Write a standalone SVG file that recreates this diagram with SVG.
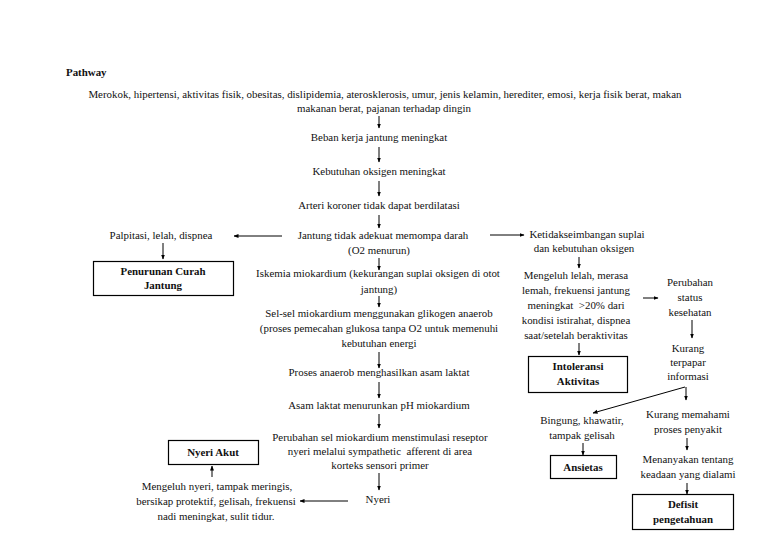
<svg xmlns="http://www.w3.org/2000/svg" width="768" height="543" viewBox="0 0 768 543">
<defs>
<marker id="ah" viewBox="0 0 10 10" refX="9" refY="5" markerWidth="5" markerHeight="5" orient="auto" markerUnits="userSpaceOnUse">
<path d="M0,1 L10,5 L0,9 Z" fill="#000"/>
</marker>
</defs>
<style>
text{font-family:"Liberation Serif","Times New Roman","DejaVu Serif",serif;font-size:10.9px;fill:#111;text-anchor:middle}
.b{font-weight:bold}
.l{text-anchor:start}
.p{white-space:pre}
.box{fill:#fff;stroke:#000;stroke-width:1.2}
.c line,.c polyline{stroke:#000;stroke-width:1;fill:none;marker-end:url(#ah)}
</style>
<rect width="768" height="543" fill="#fff"/>
<text class="b l" x="66" y="76">Pathway</text>
<g id="risk"><text x="385" y="98">Merokok, hipertensi, aktivitas fisik, obesitas, dislipidemia, aterosklerosis, umur, jenis kelamin, herediter, emosi, kerja fisik berat, makan</text>
<text x="384" y="112">makanan berat, pajanan terhadap dingin</text></g>
<g id="beban"><text x="379" y="141">Beban kerja jantung meningkat</text></g>
<g id="kebutuhan"><text x="379" y="175">Kebutuhan oksigen meningkat</text></g>
<g id="arteri"><text x="379" y="209">Arteri koroner tidak dapat berdilatasi</text></g>
<g id="jantung"><text x="383" y="239">Jantung tidak adekuat memompa darah</text><text x="379" y="254">(O2 menurun)</text></g>
<g id="palpitasi"><text x="161" y="239">Palpitasi, lelah, dispnea</text></g>
<g id="penurunan"><rect class="box" x="93.5" y="261.5" width="140" height="34"/><text class="b" x="163" y="275">Penurunan Curah</text><text class="b" x="163" y="289">Jantung</text></g>
<g id="iskemia"><text x="378" y="277">Iskemia miokardium (kekurangan suplai oksigen di otot</text><text x="379" y="293">jantung)</text></g>
<g id="selsel"><text x="379" y="317">Sel-sel miokardium menggunakan glikogen anaerob</text><text x="379" y="332">(proses pemecahan glukosa tanpa O2 untuk memenuhi</text><text x="379" y="347">kebutuhan energi</text></g>
<g id="anaerob"><text x="379" y="376">Proses anaerob menghasilkan asam laktat</text></g>
<g id="asam"><text x="379" y="409">Asam laktat menurunkan pH miokardium</text></g>
<g id="perubahansel"><text x="380" y="441">Perubahan sel miokardium menstimulasi reseptor</text><text class="p" x="380" y="455">nyeri melalui sympathetic  afferent di area</text><text x="380" y="469">korteks sensori primer</text></g>
<g id="nyeri"><text x="378" y="503">Nyeri</text></g>
<g id="gejalanyeri"><text x="217" y="490">Mengeluh nyeri, tampak meringis,</text><text x="216" y="505">bersikap protektif, gelisah, frekuensi</text><text x="216" y="520">nadi meningkat, sulit tidur.</text></g>
<g id="nyeriakut"><rect class="box" x="168.5" y="440.5" width="90" height="24"/><text class="b" x="213" y="456">Nyeri Akut</text></g>
<g id="ketidak"><text x="587" y="238">Ketidakseimbangan suplai</text><text x="584" y="252">dan kebutuhan oksigen</text></g>
<g id="mengeluhlelah"><text x="576" y="279">Mengeluh lelah, merasa</text><text x="576" y="294">lemah, frekuensi jantung</text><text class="p" x="576" y="309">meningkat  &gt;20% dari</text><text x="576" y="324">kondisi istirahat, dispnea</text><text x="576" y="339">saat/setelah beraktivitas</text></g>
<g id="intoleransi"><rect class="box" x="528.5" y="356.5" width="99" height="36"/><text class="b" x="578" y="370">Intoleransi</text><text class="b" x="578" y="385">Aktivitas</text></g>
<g id="perubahanstatus"><text x="690" y="286">Perubahan</text><text x="690" y="301">status</text><text x="690" y="316">kesehatan</text></g>
<g id="kurangterpapar"><text x="688" y="352">Kurang</text><text x="688" y="366">terpapar</text><text x="688" y="380">informasi</text></g>
<g id="bingung"><text x="582" y="424">Bingung, khawatir,</text><text x="582" y="439">tampak gelisah</text></g>
<g id="ansietas"><rect class="box" x="550.5" y="455.5" width="66" height="23"/><text class="b" x="583" y="471">Ansietas</text></g>
<g id="kurangmemahami"><text x="688" y="418">Kurang memahami</text><text x="688" y="433">proses penyakit</text></g>
<g id="menanyakan"><text x="688" y="463">Menanyakan tentang</text><text x="688" y="478">keadaan yang dialami</text></g>
<g id="defisit"><rect class="box" x="632.5" y="494.5" width="101" height="35"/><text class="b" x="683" y="508">Defisit</text><text class="b" x="683" y="523">pengetahuan</text></g>
<g id="connectors" class="c">
<line x1="379" y1="116" x2="379" y2="128"/>
<line x1="379" y1="147" x2="379" y2="162"/>
<line x1="379" y1="181" x2="379" y2="196"/>
<line x1="379" y1="215" x2="379" y2="228"/>
<line x1="282" y1="236" x2="234" y2="236"/>
<line x1="163" y1="243" x2="163" y2="259"/>
<line x1="490" y1="235" x2="524" y2="235"/>
<line x1="579" y1="257" x2="579" y2="268"/>
<line x1="579" y1="343" x2="579" y2="355"/>
<line x1="379" y1="258" x2="379" y2="270"/>
<line x1="379" y1="296" x2="379" y2="307"/>
<line x1="379" y1="352" x2="379" y2="368"/>
<line x1="379" y1="382" x2="379" y2="398"/>
<line x1="379" y1="414" x2="379" y2="428"/>
<line x1="379" y1="473" x2="379" y2="490"/>
<line x1="348" y1="501" x2="300" y2="501"/>
<line x1="212" y1="477" x2="212" y2="466"/>
<line x1="643" y1="298" x2="658" y2="298"/>
<line x1="692" y1="320" x2="692" y2="338"/>
<polyline points="685,387 593,413"/>
<line x1="686" y1="387" x2="686" y2="400"/>
<line x1="583" y1="443" x2="583" y2="455"/>
<line x1="687" y1="438" x2="687" y2="450"/>
<line x1="687" y1="483" x2="687" y2="494"/>
</g>
</svg>
